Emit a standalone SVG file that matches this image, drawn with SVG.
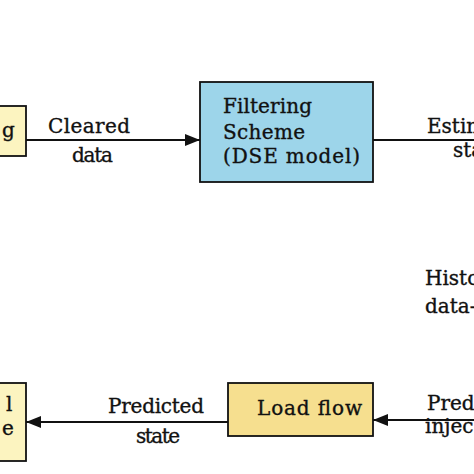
<svg xmlns="http://www.w3.org/2000/svg" width="474" height="474" viewBox="0 0 474 474">
<defs>
<style>
text{font-family:"DejaVu Serif","Liberation Serif",serif;font-size:20px;fill:#111;stroke:#111;stroke-width:0.35}
.box{stroke:#111;stroke-width:1.8}
.ln{stroke:#111;stroke-width:1.8;fill:none}
</style>
<marker id="ah" viewBox="0 0 15 12" refX="15" refY="6" markerWidth="15" markerHeight="12" markerUnits="userSpaceOnUse" orient="auto">
<path d="M0,0 L15,6 L0,12 Z" fill="#111"/>
</marker>
</defs>
<rect width="474" height="474" fill="#fff"/>
<g id="connectors">
<line class="ln" x1="26" y1="140" x2="200" y2="140" marker-end="url(#ah)"/>
<line class="ln" x1="373" y1="140" x2="474" y2="140"/>
<line class="ln" x1="474" y1="420" x2="373" y2="420" marker-end="url(#ah)"/>
<line class="ln" x1="228" y1="422" x2="26" y2="422" marker-end="url(#ah)"/>
<text x="48" y="133" textLength="82">Cleared</text>
<text x="72" y="162" textLength="41">data</text>
<text x="427" y="133">Estim</text>
<text x="453" y="157">sta</text>
<text x="425" y="285">Histo</text>
<text x="425" y="313">data-</text>
<text x="427" y="410">Pred</text>
<text x="425" y="433">injec</text>
<text x="108" y="413" textLength="96">Predicted</text>
<text x="136" y="443" textLength="44">state</text>
</g>
<g id="node-left-top">
<rect class="box" x="-2" y="106" width="28" height="50" fill="#fcf4c0"/>
<text x="2" y="137">g</text>
</g>
<g id="node-left-bottom">
<rect class="box" x="-2" y="383" width="28" height="78" fill="#fcf4c0"/>
<text x="6" y="411" font-size="17">l</text>
<text x="2" y="435" font-size="17">e</text>
</g>
<g id="node-filtering">
<rect class="box" x="200" y="82" width="173" height="100" fill="#9dd5ea"/>
<text x="223" y="113" textLength="89">Filtering</text>
<text x="223" y="139" textLength="82">Scheme</text>
<text x="223" y="163" textLength="137">(DSE model)</text>
</g>
<g id="node-loadflow">
<rect class="box" x="228" y="383" width="145" height="53" fill="#f6df8f"/>
<text x="257" y="415" textLength="105">Load flow</text>
</g>
</svg>
